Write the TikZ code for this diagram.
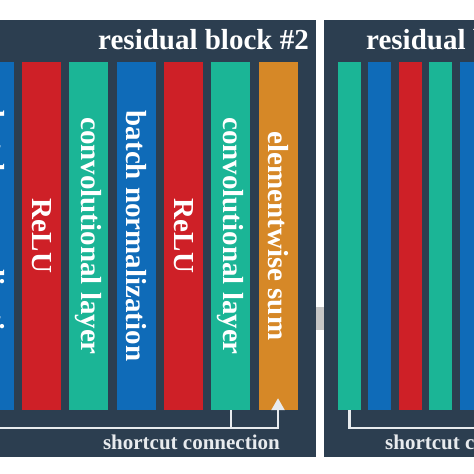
\documentclass[tikz,border=0pt]{standalone}
\usepackage{fontspec}
\setmainfont{Liberation Serif}
\usetikzlibrary{arrows.meta}
\definecolor{navy}{HTML}{2C3E50}
\definecolor{convgreen}{HTML}{1BB596}
\definecolor{bnblue}{HTML}{0F6BB8}
\definecolor{relured}{HTML}{CE2027}
\definecolor{sumorange}{HTML}{D68827}
\definecolor{linkgray}{HTML}{E8EBEE}
\newcommand{\vtxt}[1]{\rotatebox{-90}{#1}}

\begin{document}
\begin{tikzpicture}[x=1pt,y=1pt,
  bar/.style={inner sep=0pt, minimum height=348pt, text=white, font=\fontsize{29}{29}\selectfont\bfseries},
  widebar/.style={bar, minimum width=39pt},
  narrowbar/.style={bar, minimum width=23pt},
  link/.style={draw=linkgray, line width=2.4pt},
  title/.style={text=white, font=\fontsize{29}{29}\selectfont\bfseries, inner sep=0pt},
  sclabel/.style={text=linkgray, font=\fontsize{21}{21}\selectfont\bfseries, inner sep=0pt}]
\useasboundingbox (0,0) rectangle (474,474);
\clip (0,0) rectangle (474,474);
\fill[white] (0,0) rectangle (474,474);
% panels
\fill[navy] (-10,17) rectangle (316,454);
\fill[navy] (324,17) rectangle (490,454);
\fill[black!22] (316,144) rectangle (324,167);
% residual block #2
\node[widebar, fill=bnblue] (bn1) at (-5.8,238) {\vtxt{batch normalization}};
\node[widebar, fill=relured] (relu1) at (41.5,238) {\vtxt{ReLU}};
\node[widebar, fill=convgreen] (conv1) at (88.8,238) {\vtxt{convolutional layer}};
\node[widebar, fill=bnblue] (bn2) at (136.1,238) {\vtxt{batch normalization}};
\node[widebar, fill=relured] (relu2) at (183.4,238) {\vtxt{ReLU}};
\node[widebar, fill=convgreen] (conv2) at (230.7,238) {\vtxt{convolutional layer}};
\node[widebar, fill=sumorange] (sum) at (278,238) {\vtxt{elementwise sum}};
\node[title, anchor=base east] (title1) at (309,424) {residual block \#2};
\node[sclabel, anchor=base east] (sc1) at (280,24) {shortcut connection};
% residual block #3
\node[narrowbar, fill=convgreen] (conv3) at (349.5,238) {};
\node[narrowbar, fill=bnblue] (bn3) at (379.8,238) {};
\node[narrowbar, fill=relured] (relu3) at (410.2,238) {};
\node[narrowbar, fill=convgreen] (conv4) at (440.6,238) {};
\node[narrowbar, fill=bnblue] (bn4) at (471,238) {};
\node[title, anchor=base west] (title2) at (366,424) {residual block \#3};
\node[sclabel, anchor=base west] (sc2) at (385,24) {shortcut connection};
% shortcuts
\coordinate (scl) at (-10,46);
\coordinate (scr) at (484,46);
\draw[link, -{Triangle[width=13pt,length=12pt]}] (scl) -| ([yshift=12pt]sum.south);
\draw[link] (conv2.south) -- (conv2.south |- scl);
\draw[link] (conv3.south) |- (scr);
\end{tikzpicture}
\end{document}
